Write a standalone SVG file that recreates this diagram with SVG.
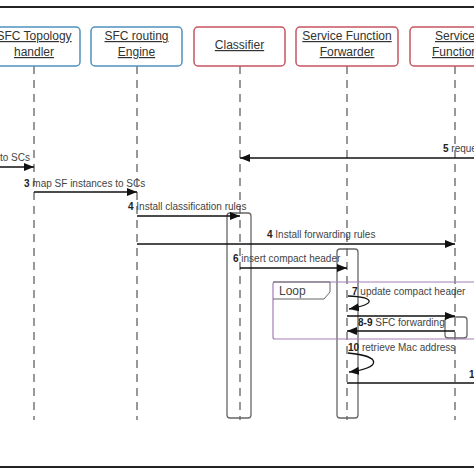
<svg xmlns="http://www.w3.org/2000/svg" width="474" height="474" viewBox="0 0 474 474">
<style>
.node{fill:#fff;stroke-width:1.5}
.blue{stroke:#4f93bd}
.red{stroke:#c65560}
.nt{font-family:"Liberation Sans",Arial,sans-serif;font-size:12px;fill:#333;text-anchor:middle;text-decoration:underline}
.life{stroke:#777;stroke-width:1.5;stroke-dasharray:8 6;fill:none}
.act{fill:none;stroke:#666;stroke-width:1.3}
.msg{stroke:#111;stroke-width:1.3;fill:none}
.ml{font-family:"Liberation Sans",Arial,sans-serif;font-size:10px;fill:#444}
.ml tspan.n{font-weight:bold;fill:#222}
</style>
<defs>
<marker id="ah" viewBox="0 0 10 8" refX="10" refY="4" markerWidth="10" markerHeight="8" markerUnits="userSpaceOnUse" orient="auto">
<path d="M0,0 L10,4 L0,8 z" fill="#111"/>
</marker>
</defs>
<rect width="474" height="474" fill="#fff"/>
<line x1="0" y1="7" x2="474" y2="7" stroke="#222" stroke-width="2"/>
<line x1="0" y1="467" x2="474" y2="467" stroke="#222" stroke-width="2"/>

<g id="lifelines">
<line class="life" x1="34" y1="66" x2="34" y2="420"/>
<line class="life" x1="137" y1="66" x2="137" y2="420"/>
<line class="life" x1="240" y1="66" x2="240" y2="420"/>
<line class="life" x1="347" y1="66" x2="347" y2="420"/>
<line class="life" x1="455" y1="66" x2="455" y2="420"/>
</g>

<g id="node-topology">
<rect class="node blue" x="-12" y="27" width="92" height="39" rx="4"/>
<text class="nt" x="34" y="40">SFC Topology</text>
<text class="nt" x="34" y="56">handler</text>
</g>
<g id="node-routing">
<rect class="node blue" x="91" y="27" width="91" height="39" rx="4"/>
<text class="nt" x="136.5" y="40">SFC routing</text>
<text class="nt" x="136.5" y="56">Engine</text>
</g>
<g id="node-classifier">
<rect class="node red" x="194" y="27" width="91" height="39" rx="4"/>
<text class="nt" x="239.5" y="49">Classifier</text>
</g>
<g id="node-sff">
<rect class="node red" x="296" y="27" width="102" height="39" rx="4"/>
<text class="nt" x="347" y="40">Service Function</text>
<text class="nt" x="347" y="56">Forwarder</text>
</g>
<g id="node-sf">
<rect class="node red" x="410" y="27" width="100" height="39" rx="4"/>
<text class="nt" x="455" y="40">Service</text>
<text class="nt" x="455" y="56">Function</text>
</g>

<g id="activations">
<rect class="act" x="227" y="213" width="24" height="205" rx="3"/>
<rect class="act" x="337" y="249" width="21" height="169" rx="3"/>
<rect class="act" x="445" y="317" width="22" height="21" rx="3"/>
</g>

<g id="loop">
<rect x="273" y="282" width="215" height="57" rx="2" fill="none" stroke="#a67db5" stroke-width="1.2"/>
<path d="M273,282 H330 V292 L324,299 H273" fill="none" stroke="#666" stroke-width="1"/>
<text x="279" y="295" font-family="Liberation Sans,Arial,sans-serif" font-size="12" fill="#444">Loop</text>
</g>

<g id="connectors">
<line class="msg" x1="0" y1="167" x2="34" y2="167" marker-end="url(#ah)"/>
<line class="msg" x1="34" y1="192" x2="137" y2="192" marker-end="url(#ah)"/>
<line class="msg" x1="137" y1="216" x2="240" y2="216" marker-end="url(#ah)"/>
<line class="msg" x1="474" y1="158" x2="240" y2="158" marker-end="url(#ah)"/>
<line class="msg" x1="137" y1="244" x2="455" y2="244" marker-end="url(#ah)"/>
<line class="msg" x1="240" y1="268" x2="347" y2="268" marker-end="url(#ah)"/>
<path class="msg" d="M348,296 C374,297 378,304 349,309" marker-end="url(#ah)"/>
<line class="msg" x1="347" y1="316" x2="455" y2="316" marker-end="url(#ah)"/>
<line class="msg" x1="455" y1="331" x2="347" y2="331" marker-end="url(#ah)"/>
<path class="msg" d="M348,353 C382,356 382,368 349,372" marker-end="url(#ah)"/>
<line class="msg" x1="347" y1="383" x2="474" y2="383"/>
</g>

<g id="labels">
<text class="ml" x="0" y="161">to SCs</text>
<text class="ml" x="24" y="187"><tspan class="n">3</tspan> map SF instances to SCs</text>
<text class="ml" x="128" y="210"><tspan class="n">4</tspan> Install classification rules</text>
<text class="ml" x="443" y="152"><tspan class="n">5</tspan> request</text>
<text class="ml" x="267" y="238"><tspan class="n">4</tspan> Install forwarding rules</text>
<text class="ml" x="233" y="262"><tspan class="n">6</tspan> insert compact header</text>
<text class="ml" x="352" y="295"><tspan class="n">7</tspan> update compact header</text>
<text class="ml" x="358" y="326"><tspan class="n">8-9</tspan> SFC forwarding</text>
<text class="ml" x="348" y="351"><tspan class="n">10</tspan> retrieve Mac address</text>
<text class="ml" x="469" y="378"><tspan class="n">11</tspan></text>
</g>
</svg>
